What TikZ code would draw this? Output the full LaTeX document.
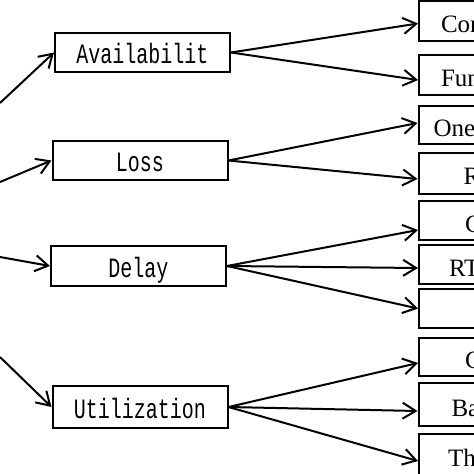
\documentclass[tikz,border=0pt]{standalone}
\usepackage{fontspec}
\usepackage{graphicx}
\usetikzlibrary{arrows.meta}
\newfontfamily\boxmono{Liberation Mono}
\newfontfamily\leafserif{Liberation Serif}
\newcommand{\tallmono}[1]{\scalebox{1}[1.4]{#1}}

\begin{document}
\begin{tikzpicture}[x=1bp,y=-1bp]

\useasboundingbox (0,0) rectangle (474,474);
\clip (0,0) rectangle (474,474);

\tikzset{metric/.style = {draw, line width=2bp, rectangle, minimum width=175bp,
            minimum height=39bp, inner sep=0pt, text height=22bp, text depth=0pt,
            font=\fontsize{20bp}{24bp}\selectfont\boxmono},
         leaf/.style = {draw, line width=2bp, rectangle, anchor=north west,
            text width=90bp, align=left, inner ysep=0pt, minimum height=40bp,
            text height=24bp, text depth=1bp,
            font=\fontsize{25bp}{30bp}\selectfont\leafserif},
         link/.style = {line width=2bp,
            -{Straight Barb[length=13bp,width=16bp,line width=2bp]}}}

\coordinate (root1) at (0,103);
\coordinate (root2) at (0,182);
\coordinate (root3) at (0,257);
\coordinate (root4) at (0,357);

\node[metric] (avail) at (142.5,52.5) {\tallmono{Availabilit}};
\node[metric] (loss) at (140,160.5) {\tallmono{Loss}};
\node[metric, minimum height=40bp] (delay) at (138.5,266) {\tallmono{Delay}};
\node[metric, minimum height=42bp] (util) at (140,407) {\tallmono{Utilization}};

\node[leaf, inner xsep=22bp] (con) at (418,0.5) {Con};
\node[leaf, inner xsep=22bp] (fun) at (418,54) {Fun};
\node[leaf, inner xsep=15bp, minimum height=38bp] (one) at (417.5,105) {One};
\node[leaf, inner xsep=45bp, minimum height=41bp] (rr) at (417.5,152) {R};
\node[leaf, inner xsep=46bp, minimum height=39bp] (cc) at (418,200) {C};
\node[leaf, inner xsep=30bp, minimum height=39bp] (rt) at (418,244) {RT};
\node[leaf, inner xsep=30bp, minimum height=39bp] (blank) at (418,288) {};
\node[leaf, inner xsep=46bp, minimum height=38bp] (cu) at (418,337) {C};
\node[leaf, inner xsep=33bp, minimum height=43bp] (ba) at (417.5,382) {Ba};
\node[leaf, inner xsep=29bp, minimum height=42bp] (thi) at (418,433) {Thi};

\draw[link] (root1) -- (avail.west);
\draw[link] (root2) -- (loss.west);
\draw[link] (root3) -- (delay.west);
\draw[link] (root4) -- (util.west);

\draw[link] (avail.east) -- ([yshift=-2bp]con.west);
\draw[link] (avail.east) -- ([yshift=-5bp]fun.west);
\draw[link] (loss.east) -- ([yshift=2bp]one.west);
\draw[link] (loss.east) -- ([yshift=-5.5bp]rr.west);
\draw[link] (delay.east) -- ([yshift=-9.5bp]cc.west);
\draw[link] (delay.east) -- ([yshift=-3.5bp]rt.west);
\draw[link] (delay.east) -- (blank.west);
\draw[link] (util.east) -- ([yshift=-6bp]cu.west);
\draw[link] (util.east) -- ([yshift=-6.5bp]ba.west);
\draw[link] (util.east) -- ([yshift=-6bp]thi.west);

\end{tikzpicture}
\end{document}
